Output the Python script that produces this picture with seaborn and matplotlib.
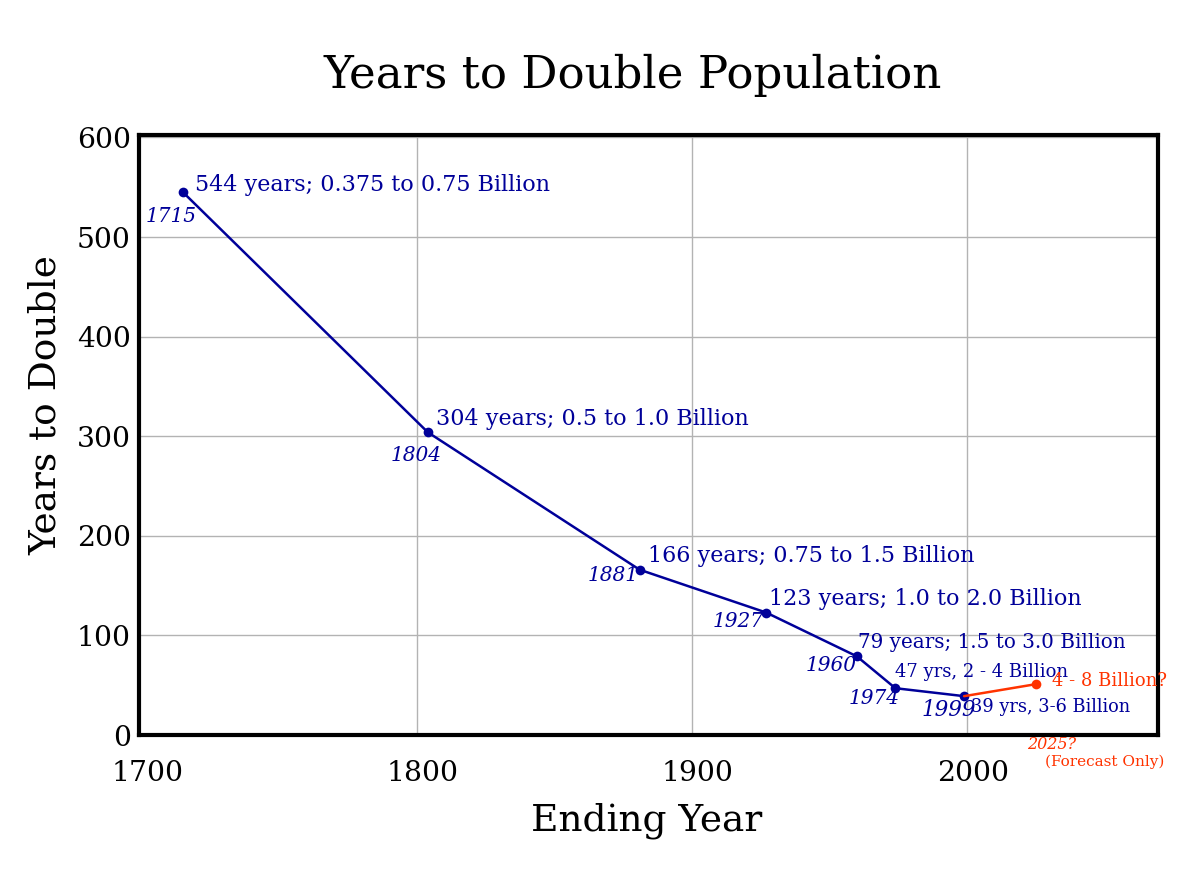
import matplotlib
matplotlib.use("Agg")
import matplotlib.pyplot as plt
import matplotlib.transforms as mtransforms
import seaborn as sns
import pandas as pd

# data
years = [1715, 1804, 1881, 1927, 1960, 1974, 1999]
years_to_double = [545, 304, 166, 123, 79, 47, 39]
forecast_years = [1999, 2025]
forecast_values = [39, 51]

point_labels = ["1715", "1804", "1881", "1927", "1960", "1974", "1999"]
range_labels = [
    "544 years; 0.375 to 0.75 Billion",
    "304 years; 0.5 to 1.0 Billion",
    "166 years; 0.75 to 1.5 Billion",
    "123 years; 1.0 to 2.0 Billion",
    "79 years; 1.5 to 3.0 Billion",
    "47 yrs, 2 - 4 Billion",
    "39 yrs, 3-6 Billion",
]

blue = "#000099"
red = "#ff3300"

sns.set_style("whitegrid")
plt.rcParams["font.family"] = ["DejaVu Serif"]
plt.rcParams["text.color"] = "black"
plt.rcParams["axes.labelcolor"] = "black"
plt.rcParams["xtick.color"] = "black"
plt.rcParams["ytick.color"] = "black"

fig = plt.figure(figsize=(12, 8.84), dpi=100)
ax = fig.add_axes([139 / 1200, 1 - 735 / 884, (1158 - 139) / 1200, 600 / 884])

df = pd.DataFrame({"year": years, "double": years_to_double})
df_fc = pd.DataFrame({"year": forecast_years, "double": forecast_values})

sns.lineplot(data=df, x="year", y="double", color=blue, lw=1.8, marker="o",
             markersize=7, markeredgewidth=0, ax=ax)
sns.lineplot(data=df_fc, x="year", y="double", color=red, lw=1.8, ax=ax)
ax.plot(forecast_years[1:], forecast_values[1:], "o", color=red, markersize=7,
        markeredgewidth=0)

ax.set_xlim(1699, 2069.5)
ax.set_ylim(0, 602.5)
ax.set_xticks([1700, 1800, 1900, 2000])
ax.set_yticks(range(0, 601, 100))
ax.tick_params(length=0, labelsize=20.3)
ax.tick_params(axis="x", pad=18)
ax.tick_params(axis="y", pad=6)
shift = mtransforms.ScaledTranslation(6 / 100, 0, fig.dpi_scale_trans)
for lbl in ax.get_xticklabels():
    lbl.set_transform(lbl.get_transform() + shift)
ax.grid(True, color="#b3b3b3", lw=1)
ax.xaxis.get_gridlines()[0].set_visible(False)
for s in ax.spines.values():
    s.set_color("black")
    s.set_linewidth(3)

fig.text(633 / 1200, 1 - 88 / 884, "Years to Double Population", fontsize=32.5,
         ha="center", va="baseline")
ax.set_xlabel("Ending Year", fontsize=27)
ax.set_ylabel("Years to Double", fontsize=27)
ax.xaxis.set_label_coords((647 - 139) / 1019, -(821 - 735) / 600)
ax.xaxis.label.set_va("center")
ax.yaxis.set_label_coords(-(139 - 46) / 1019, (735 - 405) / 600)
ax.yaxis.label.set_va("center")

# range annotations (left edge, baseline)
range_pos = [(1719.5, 546, 16), (1807, 311, 16), (1884, 174, 16), (1928, 131, 16),
             (1960.5, 87, 14.3), (1974, 58, 13), (2001.5, 23, 12.8)]
for txt, (x, y, fs) in zip(range_labels, range_pos):
    ax.text(x, y, txt, color=blue, fontsize=fs, va="baseline", ha="left")

# year labels (right edge, baseline)
year_pos = [(1720, 515, 14.5), (1809, 275, 14.5), (1880.5, 155, 14.5),
            (1926, 108, 14.5), (1960, 64, 14.5), (1975.5, 31, 14.5), (2003.5, 19, 15.5)]
for txt, (x, y, fs) in zip(point_labels, year_pos):
    ax.text(x, y, txt, color=blue, fontsize=fs, style="italic", va="baseline",
            ha="right")

ax.text(2031, 49, "4 - 8 Billion?", color=red, fontsize=13, va="baseline")
ax.text(2022, -14, "2025?", color=red, fontsize=11.5, style="italic",
        va="baseline", clip_on=False)
ax.text(2028.5, -31, "(Forecast Only)", color=red, fontsize=11,
        va="baseline", clip_on=False)

fig.savefig("out.png", dpi=100, facecolor="white")
